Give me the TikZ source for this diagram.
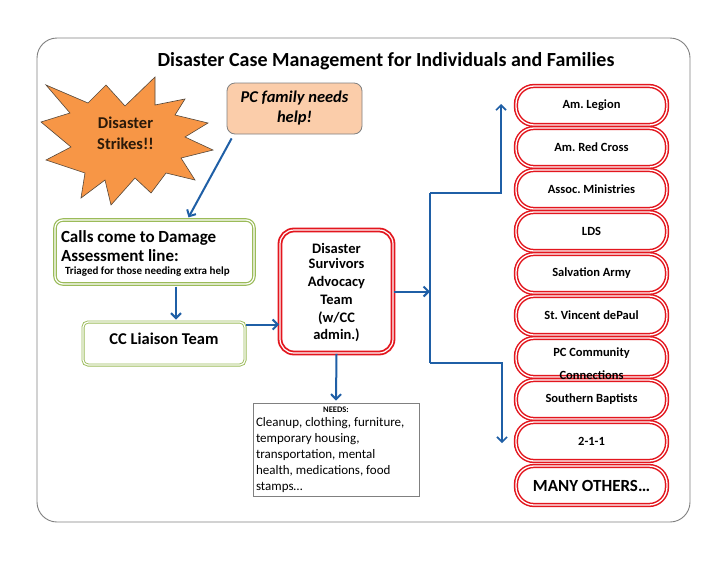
\documentclass[tikz,border=0pt]{standalone}
\usepackage{fontspec}
\setmainfont{Carlito}
\usetikzlibrary{arrows.meta,calc}
\frenchspacing
\definecolor{arrowblue}{HTML}{1F5FA6}
\definecolor{pillred}{HTML}{E3161E}
\definecolor{boxgreen}{HTML}{9BBB59}
\definecolor{burst}{HTML}{F79646}
\definecolor{peach}{HTML}{FBCDAA}
\definecolor{framegray}{HTML}{808080}
\definecolor{burstink}{HTML}{2B1A0A}
\tikzset{
  arr/.style={draw=arrowblue, line width=2pt, -{Straight Barb[length=5pt,width=10pt]}},
  branch/.style={draw=arrowblue, line width=1.6pt},
  branchArr/.style={branch, -{Straight Barb[length=5pt,width=10pt]}},
  pill/.style={rectangle, rounded corners=18pt, minimum width=151pt, minimum height=39pt,
    draw=pillred, double=white, line width=1.5pt, double distance=1.3pt,
    font=\fontsize{12.5}{14}\selectfont\bfseries, inner sep=0pt},
  greenbox/.style={rectangle, draw=boxgreen, double=white, line width=1.2pt, double distance=1.2pt},
  pilltxt/.style={font=\fontsize{12.5}{23}\selectfont\bfseries, align=center, inner sep=0pt},
}
\begin{document}
\frenchspacing
\begin{tikzpicture}[x=1pt,y=-1pt]
\useasboundingbox (0,0) rectangle (728,563);
\fill[white] (0,0) rectangle (728,563);
% outer frame
\draw[framegray, line width=0.9pt, rounded corners=20pt] (37,38) rectangle (690,522);
% title
\node[font=\fontsize{20}{22}\selectfont\bfseries] (title) at (386,61) {Disaster Case Management for Individuals and Families};
% starburst
\draw[fill=burst, draw=burstink!80, line width=0.6pt]
  (46,85) -- (88,103) -- (106,85) -- (125,106) -- (155,77) -- (155,105) -- (185,99) -- (175,115)
  -- (208,123) -- (185,137) -- (213,150) -- (181,158) -- (195,180) -- (166,173) -- (151,193)
  -- (135,178) -- (111,205) -- (105,180) -- (81,198) -- (85,173) -- (46,160) -- (71,147)
  -- (41,122) -- (70,113) -- cycle;
\node[font=\fontsize{16.5}{21}\selectfont\bfseries, text=burstink, align=center] (strike) at (125.5,133.5) {Disaster\\Strikes!!};
% PC family box
\node[rectangle, rounded corners=8pt, fill=peach, draw=framegray, line width=0.8pt,
  minimum width=135pt, minimum height=51pt, align=center,
  font=\fontsize{16.5}{20}\selectfont\bfseries\itshape] (pc) at (294.5,108.5) {PC family needs\\help!};
% Calls box
\node[greenbox, rounded corners=8pt, minimum width=199pt, minimum height=64pt,
  text width=187pt, align=flush left, font=\fontsize{17}{19}\selectfont\bfseries] (calls) at (154.5,252)
  {\raisebox{-3pt}[\height][\depth]{Calls come to Damage}\\\raisebox{-3pt}[\height][\depth]{Assessment line:}\\[-3pt]{\fontsize{11}{12}\selectfont\hspace{4pt}Triaged for those needing extra help}};
% CC Liaison
\node[greenbox, line width=0.9pt, rounded corners=5pt, minimum width=162pt, minimum height=43pt,
  font=\fontsize{16.5}{18}\selectfont\bfseries] (cc) at (164,343.5) {\raisebox{5pt}[\height][\depth]{CC Liaison Team}};
% DSAT
\node[rectangle, rounded corners=14pt, draw=pillred, double=white, line width=1.8pt, double distance=1.2pt,
  minimum width=113pt, minimum height=123pt, align=center,
  font=\fontsize{14.5}{17.7}\selectfont\bfseries] (dsat) at (336.5,291.5)
  {\raisebox{-2pt}[\height][\depth]{Disaster}\\Survivors\\Advocacy\\Team\\(w/CC\\admin.)};
% Needs box
\node[rectangle, draw=framegray, line width=0.8pt, minimum width=166pt, minimum height=93pt,
  text width=160pt, align=flush left, inner sep=3pt, font=\fontsize{13}{16}\selectfont] (needs) at (336,449.5)
  {\makebox[160pt][c]{\fontsize{8.5}{10}\selectfont\bfseries NEEDS:}\\[-2pt]Cleanup, clothing, furniture,\\temporary housing,\\transportation, mental\\health, medications, food\\stamps…};
% pills
\node[pill] (p1) at (591.5,105.5) {Am. Legion};
\node[pill] (p2) at (591.5,147.5) {Am. Red Cross};
\node[pill] (p3) at (591.5,189.5) {Assoc. Ministries};
\node[pill] (p4) at (591.5,231.5) {LDS};
\node[pill] (p5) at (591.5,273.5) {Salvation Army};
\node[pill] (p6) at (591.5,315.5) {St. Vincent dePaul};
\node[pill] (p7) at (591.5,357.5) {};
\node[pill] (p8) at (591.5,399.5) {Southern Baptists};
\node[pill] (p9) at (591.5,441.5) {2-1-1};
\node[pill, font=\fontsize{17}{18}\selectfont\bfseries] (p10) at (591.5,485.5) {MANY OTHERS…};
\node[pilltxt] (p7t) at ($(p7.center)+(0,6)$) {PC Community\\Connections};
% connectors
\coordinate (pcOut) at ($(pc.south west)+(5,4)$);
\coordinate (callsIn) at ($(calls.north)+(34,-2)$);
\coordinate (callsOut) at ($(calls.south)+(21.5,2)$);
\coordinate (ccIn) at ($(cc.north)+(12,-2)$);
\coordinate (ccOut) at ($(cc.north east)+(1,3)$);
\draw[arr] (pcOut) -- (callsIn);
\draw[arr] (callsOut) -- (ccIn);
\draw[arr] (ccOut) -- (ccOut -| dsat.west);
\coordinate (trunk) at (430,291.5);
\coordinate (tTop) at (430,193);
\coordinate (tBot) at (430,363);
\coordinate (upEnd) at (501,104);
\coordinate (dnEnd) at (502,443);
\draw[arr] (dsat.east) -- (trunk);
\draw[branch] (tTop) -- (tBot);
\draw[branchArr] (tTop) -- (tTop -| upEnd) -- (upEnd);
\draw[branchArr] (tBot) -- (tBot -| dnEnd) -- (dnEnd);
\coordinate (needsIn) at ($(needs.north)+(0,-2)$);
\draw[arr] (dsat.south) -- (needsIn);
\end{tikzpicture}
\end{document}
